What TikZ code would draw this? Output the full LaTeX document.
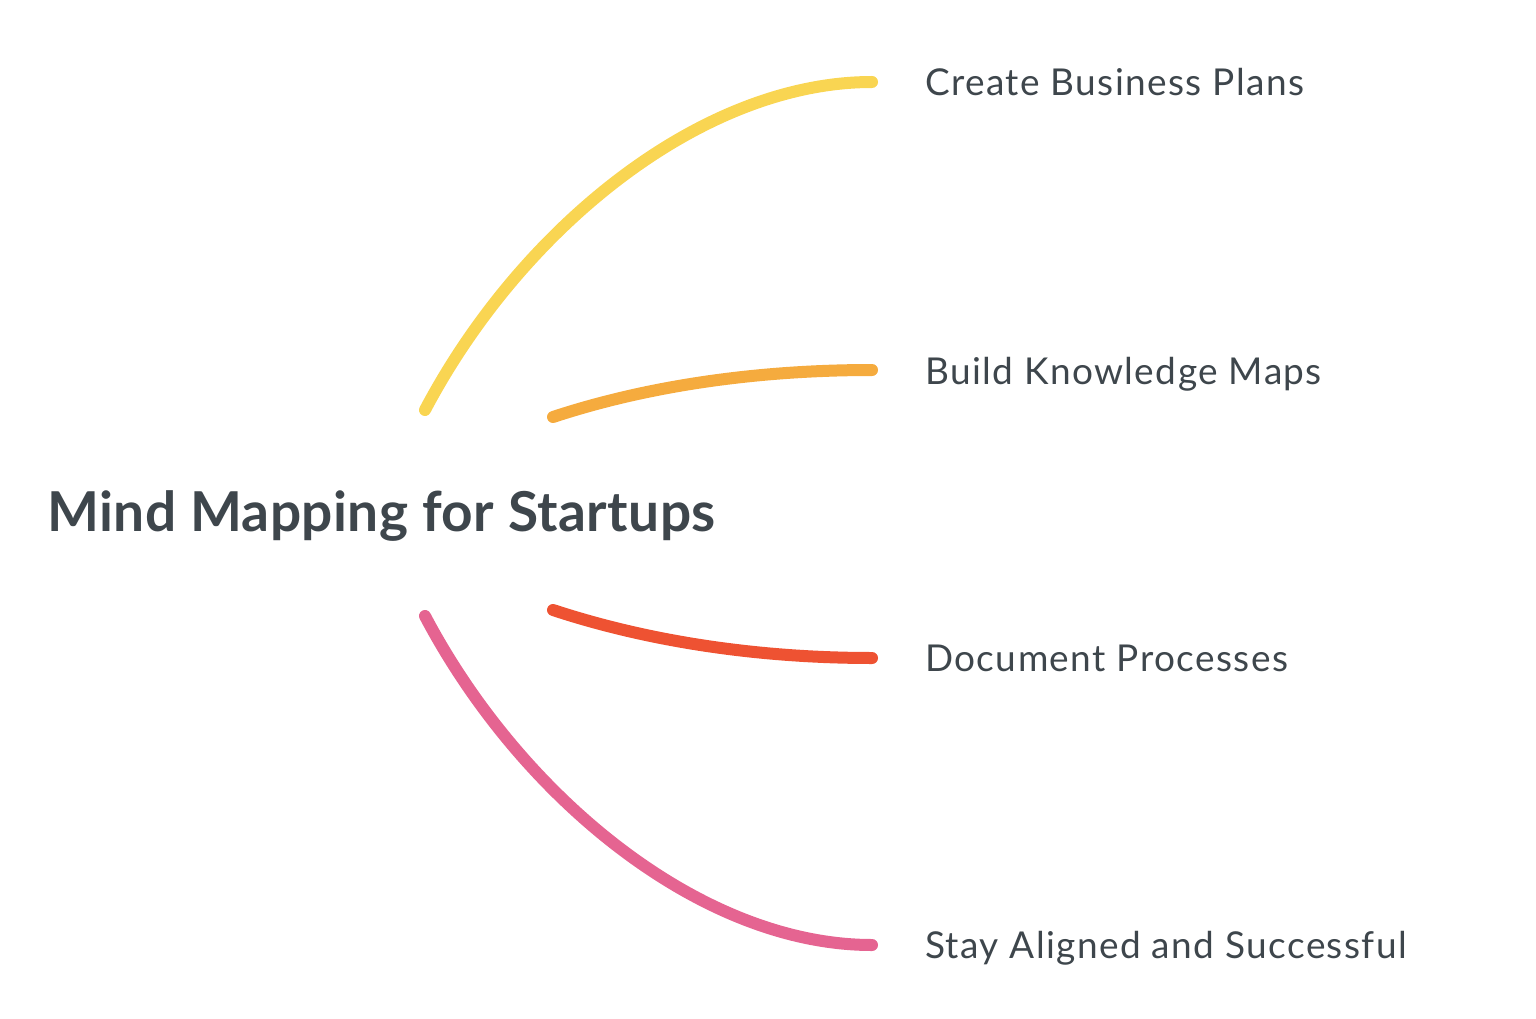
\documentclass[tikz,border=0pt]{standalone}
\usepackage{fontspec}
\setmainfont{Lato}
\newfontfamily\leaffont[LetterSpace=3.8]{Lato}
\newfontfamily\rootfont[LetterSpace=0.8]{Lato}
\definecolor{txt}{HTML}{3E464C}
\definecolor{cyel}{HTML}{F9D552}
\definecolor{corg}{HTML}{F5AB3E}
\definecolor{cred}{HTML}{EE5232}
\definecolor{cpnk}{HTML}{E56491}
\tikzset{
  branch/.style={line width=12pt, line cap=round},
  leaf/.style={anchor=base west, inner sep=0pt, text=txt, font=\leaffont\fontsize{37}{40}\selectfont},
  root/.style={anchor=base west, inner sep=0pt, text=txt, font=\rootfont\fontsize{55}{60}\selectfont\bfseries}
}
\begin{document}
\begin{tikzpicture}[x=1pt,y=-1pt]
\useasboundingbox (0,0) rectangle (1536,1019);
\node[root] (title) at (47,531) {Mind Mapping for Startups};
\node[leaf] (l1) at (925,96) {Create Business Plans};
\node[leaf] (l2) at (925,384) {Build Knowledge Maps};
\node[leaf] (l3) at (925,671) {Document Processes};
\node[leaf] (l4) at (925,958) {Stay Aligned and Successful};
\coordinate (s1) at (425,410);
\coordinate (s2) at (553,417);
\coordinate (s3) at (553,610);
\coordinate (s4) at (425,616);
\coordinate (e1) at (872,82);
\coordinate (e2) at (872,370);
\coordinate (e3) at (872,658);
\coordinate (e4) at (872,945);
\draw[branch, cyel] (s1) .. controls (520,230) and (700,82) .. (e1);
\draw[branch, corg] (s2) .. controls (650,385) and (760,370) .. (e2);
\draw[branch, cred] (s3) .. controls (650,642) and (760,658) .. (e3);
\draw[branch, cpnk] (s4) .. controls (520,796) and (700,945) .. (e4);
\end{tikzpicture}
\end{document}
